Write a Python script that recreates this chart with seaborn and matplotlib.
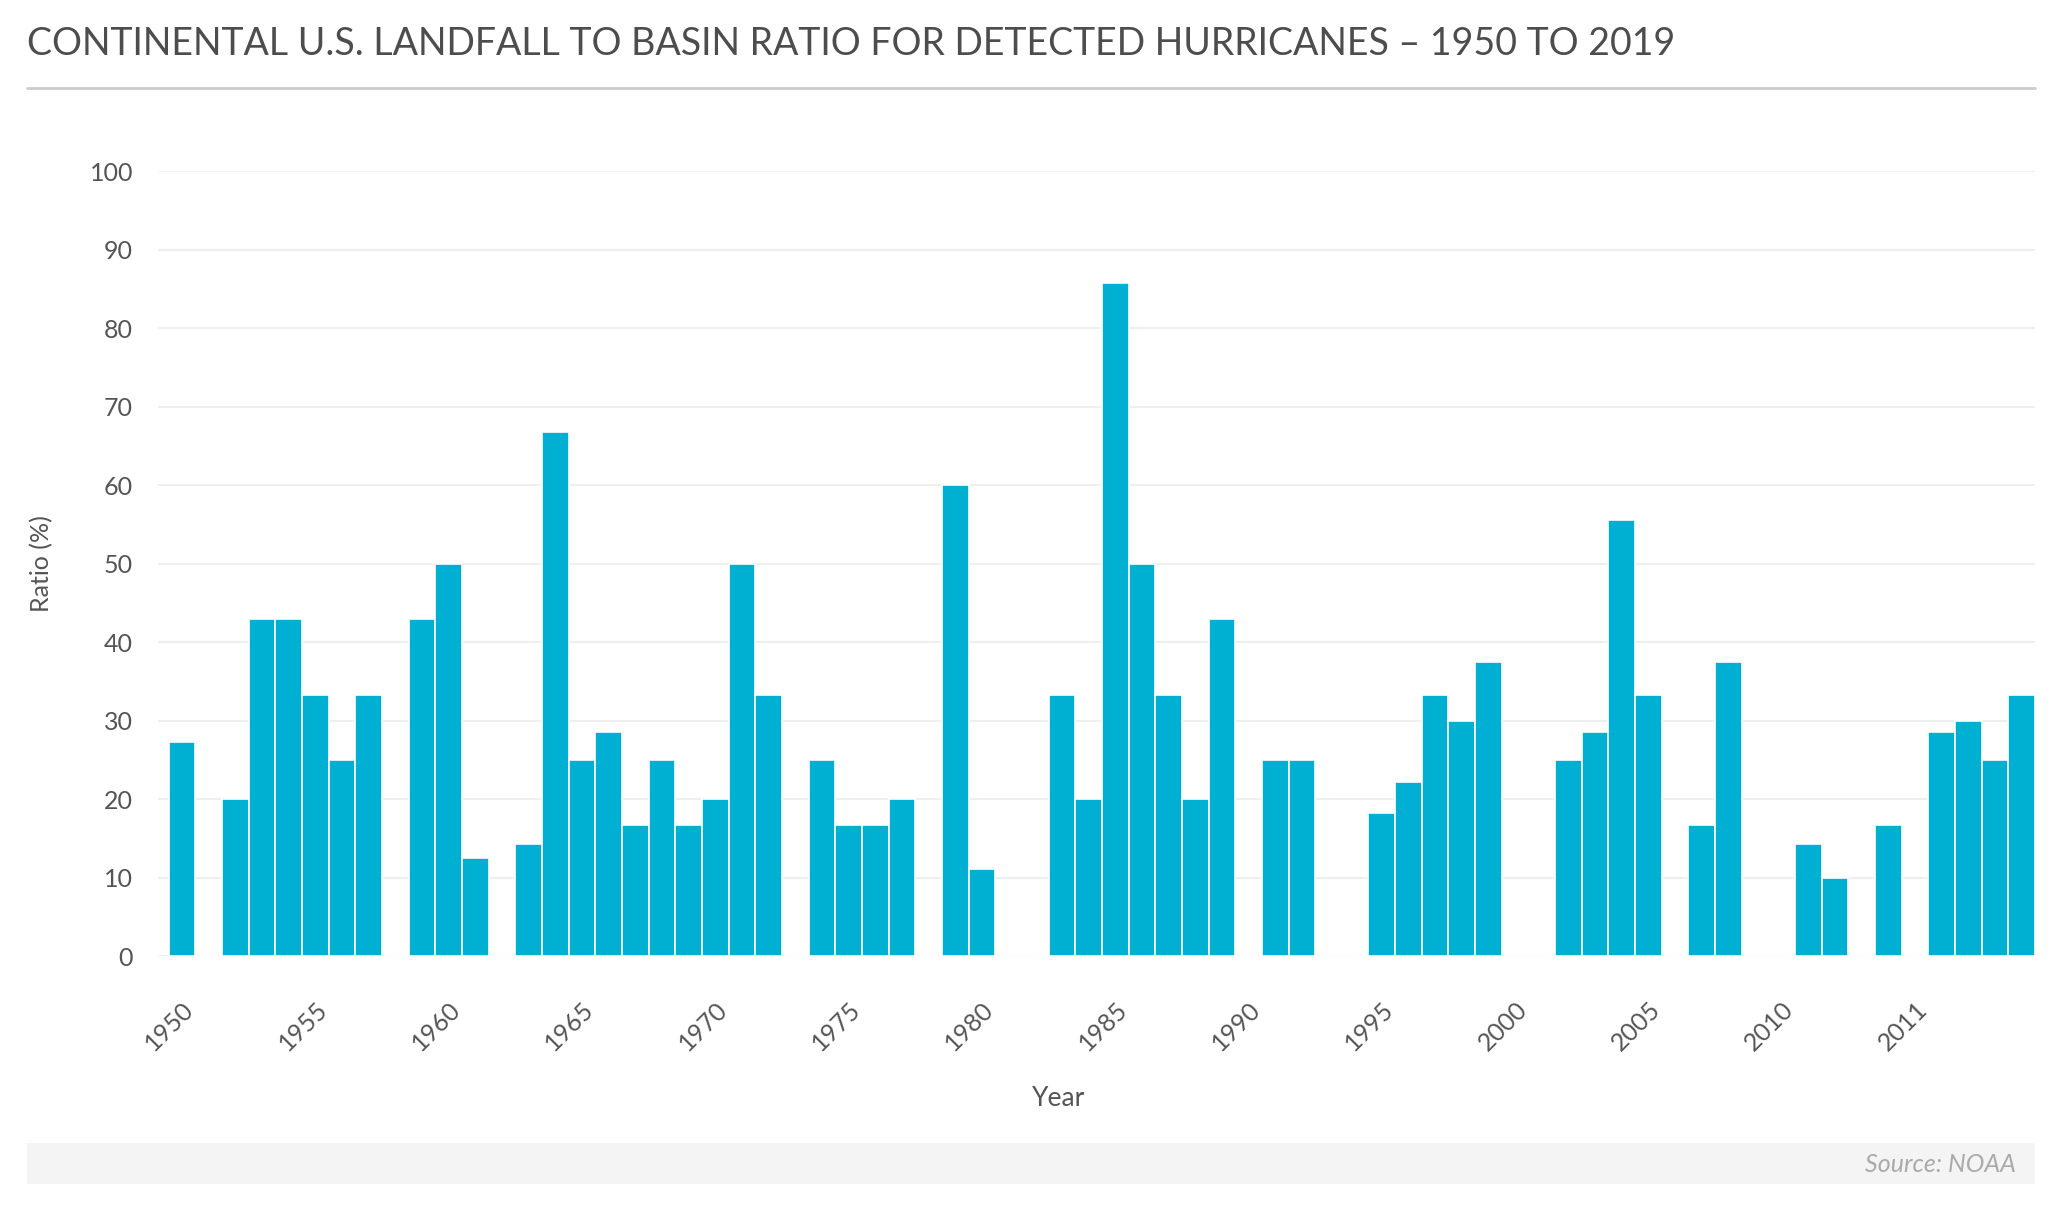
import matplotlib
matplotlib.use("Agg")
import matplotlib.pyplot as plt
import pandas as pd
import seaborn as sns
from matplotlib.patches import Rectangle
from matplotlib.lines import Line2D

# Data (0 = no bar drawn)
years = [str(y) for y in range(1950, 2020)]
ratios = [
    27.3, 0, 20.0, 42.9, 42.9, 33.3, 25.0, 33.3, 0, 42.9,
    50.0, 12.5, 0, 14.3, 66.7, 25.0, 28.6, 16.7, 25.0, 16.7,
    20.0, 50.0, 33.3, 0, 25.0, 16.7, 16.7, 20.0, 0, 60.0,
    11.1, 0, 0, 33.3, 20.0, 85.7, 50.0, 33.3, 20.0, 42.9,
    0, 25.0, 25.0, 0, 0, 18.2, 22.2, 33.3, 30.0, 37.5,
    0, 0, 25.0, 28.6, 55.6, 33.3, 0, 16.7, 37.5, 0,
    0, 14.3, 10.0, 0, 16.7, 0, 28.6, 30.0, 25.0, 33.3,
]
tick_pos = list(range(0, 70, 5))
tick_labels = ["1950", "1955", "1960", "1965", "1970", "1975", "1980",
               "1985", "1990", "1995", "2000", "2005", "2010", "2011"]

bar_color = "#00B0D3"
text_color = "#555555"

sns.set_style("white")
plt.rcParams["font.family"] = ["Lato", "DejaVu Sans"]

df = pd.DataFrame({"Year": years, "Ratio": ratios})

fig = plt.figure(figsize=(20.61, 12.07), dpi=100)
ax = fig.add_axes([0.0767, 0.2079, 0.9107, 0.6504])

sns.barplot(data=df, x="Year", y="Ratio", color=bar_color, width=1.0,
            saturation=1, edgecolor="white", linewidth=1.2, ax=ax, zorder=2)

ax.set_ylim(0, 100)
ax.set_xlim(-0.9, 69.5)
ax.set_yticks(range(0, 101, 10))
ax.yaxis.grid(True, color="#EFEFEF", linewidth=1.5, zorder=0)
ax.set_axisbelow(True)
for s in ax.spines.values():
    s.set_visible(False)

ax.set_xticks(tick_pos)
ax.set_xticklabels(tick_labels, rotation=45, ha="right", rotation_mode="anchor",
                   fontsize=18, color=text_color)
ax.tick_params(axis="y", labelsize=18, labelcolor=text_color, length=0, pad=18)
ax.tick_params(axis="x", length=0, pad=30)

ax.set_xlabel("Year", fontsize=19, color=text_color)
ax.xaxis.set_label_coords(0.48, -0.165)
ax.set_ylabel("Ratio (%)", fontsize=18, color=text_color, labelpad=26)

# title and rule
fig.text(27 / 2061, 1 - 44 / 1207, "CONTINENTAL U.S. LANDFALL TO BASIN RATIO FOR DETECTED HURRICANES \u2013 1950 TO 2019",
         fontsize=27, fontweight="normal", color="#4D4D4D", va="center", ha="left")
fig.add_artist(Line2D([27 / 2061, 2035 / 2061], [1 - 88 / 1207, 1 - 88 / 1207],
                      transform=fig.transFigure, color="#CCCCCC", linewidth=2))

# source footer
fig.add_artist(Rectangle((27 / 2061, 1 - 1184 / 1207), (2035 - 27) / 2061, 41 / 1207,
                         transform=fig.transFigure, facecolor="#F4F4F4", edgecolor="none"))
fig.text(2016 / 2061, 1 - 1164 / 1207, "Source: NOAA", fontsize=18, style="italic",
         color="#AAAAAA", ha="right", va="center")

fig.savefig("out.png", dpi=100)
